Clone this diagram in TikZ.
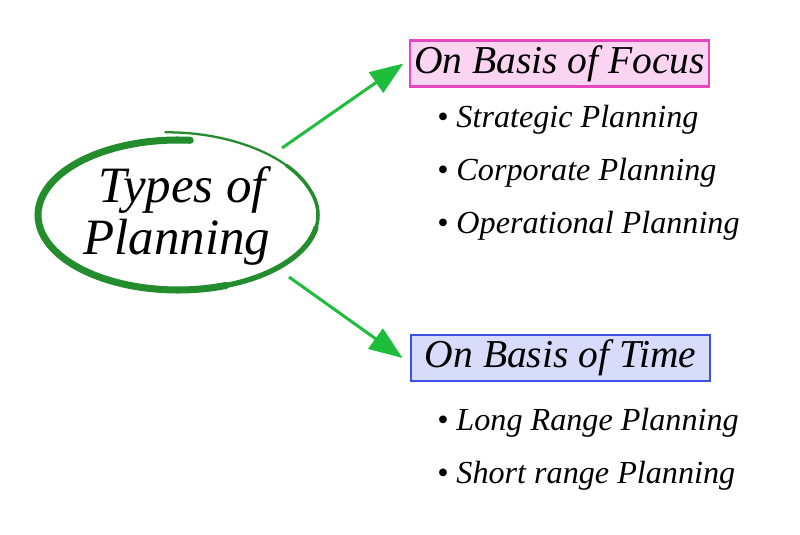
\documentclass[tikz,border=0pt]{standalone}
\usepackage{fontspec}
\setmainfont{Liberation Serif}
\usetikzlibrary{arrows.meta}
\definecolor{ringgreen}{RGB}{35,140,45}
\definecolor{arrowgreen}{RGB}{30,190,60}
\definecolor{focusfill}{RGB}{250,212,240}
\definecolor{focusline}{RGB}{230,70,190}
\definecolor{timefill}{RGB}{215,220,250}
\definecolor{timeline}{RGB}{60,80,225}

\begin{document}
\begin{tikzpicture}[x=0.02cm,y=0.02cm]
\tikzstyle{basis}=[draw,line width=1.6pt,minimum width=5.98cm,minimum height=0.92cm,inner sep=0pt,font=\itshape\fontsize{22.5}{27}\selectfont];
\tikzstyle{item}=[anchor=west,font=\itshape\fontsize{18.3}{22}\selectfont];
\tikzstyle{link}=[draw=arrowgreen,line width=1.7pt,-{Triangle[length=19pt,width=14pt]}];
\useasboundingbox (0,0) rectangle (800,534);
\fill[white] (0,0) rectangle (800,534);
\foreach \a/\b/\w in {85/290/4pt,290/350/3pt,350/400/2pt,400/455/1.3pt}
  \draw[ringgreen,line width=\w,line cap=round] plot[domain=\a:\b,samples=40,smooth]
    ({178+(140+6*max(0,(\x-380)/75))*cos(\x)},{319+(75+8*max(0,(\x-380)/75))*sin(\x)});
\node[align=left,font=\itshape\fontsize{29}{29.6}\selectfont] (types) at (177,318) {\hspace*{0.3cm}Types of\\Planning};
\node[basis,fill=focusfill,draw=focusline] (focus) at (559.5,470.5) {On Basis of Focus};
\node[basis,fill=timefill,draw=timeline] (time) at (560.5,176) {On Basis of Time};
\node[item] (strategic) at (431,414) {\textbullet\ Strategic Planning};
\node[item] (corporate) at (431,361) {\textbullet\ Corporate Planning};
\node[item] (operational) at (431,308) {\textbullet\ Operational Planning};
\node[item] (long) at (431,111) {\textbullet\ Long Range Planning};
\node[item] (short) at (431,58) {\textbullet\ Short range Planning};
\coordinate (upstart) at (282,386);
\coordinate (downstart) at (289,257);
\draw[link] (upstart) -- ([xshift=-3]focus.west);
\draw[link] (downstart) -- ([xshift=-4]time.west);
\end{tikzpicture}
\end{document}
